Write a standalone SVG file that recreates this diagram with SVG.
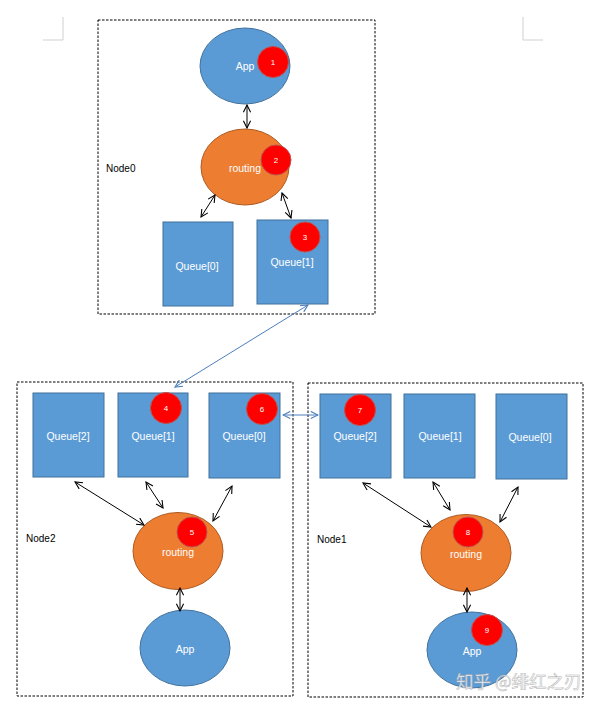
<svg xmlns="http://www.w3.org/2000/svg" width="600" height="709" viewBox="0 0 600 709">
<style>
.box{fill:none;stroke:#000;stroke-width:1;stroke-dasharray:2.5 1.5}
.q{fill:#5b9bd5;stroke:#41719c;stroke-width:1}
.r{fill:#ed7d31;stroke:#ae5a21;stroke-width:1}
.a{fill:#5b9bd5;stroke:#41719c;stroke-width:1}
.red{fill:#ff0000;stroke:#c0504d;stroke-width:1}
.t{font-family:"Liberation Sans",Arial,sans-serif;font-size:10.5px;fill:#ffffff;text-anchor:middle}
.n{font-family:"Liberation Sans",Arial,sans-serif;font-size:8px;fill:#ffffff;text-anchor:middle}
.lbl{font-family:"Liberation Sans",Arial,sans-serif;font-size:10px;fill:#000}
.c{stroke:#000;stroke-width:1;fill:none;marker-start:url(#ah);marker-end:url(#ah)}
.cb{stroke:#4a7ebb;stroke-width:1;fill:none;marker-start:url(#ahb);marker-end:url(#ahb)}
.corner{stroke:#d0d0d0;stroke-width:1;fill:none}
</style>
<defs>
<marker id="ah" viewBox="0 0 10 10" refX="9" refY="5" markerWidth="9" markerHeight="9" markerUnits="userSpaceOnUse" orient="auto-start-reverse">
<path d="M1,1 L9,5 L1,9" fill="none" stroke="#000" stroke-width="1.2"/>
</marker>
<marker id="ahb" viewBox="0 0 10 10" refX="9" refY="5" markerWidth="9" markerHeight="9" markerUnits="userSpaceOnUse" orient="auto-start-reverse">
<path d="M1,1 L9,5 L1,9" fill="none" stroke="#4a7ebb" stroke-width="1.2"/>
</marker>
</defs>
<rect width="600" height="709" fill="#ffffff"/>
<g id="corners">
<path class="corner" d="M63,17 V40 H43"/>
<path class="corner" d="M523,17 V40 H543"/>
</g>
<g id="node0">
<rect class="box" x="98" y="20" width="277" height="294"/>
<text class="lbl" x="106" y="172">Node0</text>
</g>
<g id="node2">
<rect class="box" x="17" y="382" width="276" height="314"/>
<text class="lbl" x="26" y="542">Node2</text>
</g>
<g id="node1">
<rect class="box" x="308" y="383" width="275" height="314"/>
<text class="lbl" x="317" y="543">Node1</text>
</g>
<g id="n0-app">
<ellipse class="a" cx="245" cy="66" rx="45" ry="38"/>
<text class="t" x="245" y="70">App</text>
<circle class="red" cx="273" cy="62" r="15.5"/>
<text class="n" x="273" y="65">1</text>
</g>
<g id="n0-routing">
<ellipse class="r" cx="245" cy="167" rx="44" ry="38"/>
<text class="t" x="245" y="172">routing</text>
<circle class="red" cx="276" cy="160" r="15"/>
<text class="n" x="276" y="163">2</text>
</g>
<g id="n0-queue0">
<rect class="q" x="163" y="222" width="70" height="84"/>
<text class="t" x="197" y="270">Queue[0]</text>
</g>
<g id="n0-queue1">
<rect class="q" x="257" y="220" width="71" height="84"/>
<text class="t" x="292" y="266">Queue[1]</text>
<circle class="red" cx="305" cy="237" r="15"/>
<text class="n" x="305" y="240">3</text>
</g>
<g id="n2-queue2">
<rect class="q" x="33" y="393" width="71" height="84"/>
<text class="t" x="68" y="440">Queue[2]</text>
</g>
<g id="n2-queue1">
<rect class="q" x="118" y="393" width="70" height="84"/>
<text class="t" x="153" y="440">Queue[1]</text>
<circle class="red" cx="166" cy="408" r="15.5"/>
<text class="n" x="166" y="411">4</text>
</g>
<g id="n2-queue0">
<rect class="q" x="209" y="393" width="71" height="85"/>
<text class="t" x="244" y="440">Queue[0]</text>
<circle class="red" cx="262" cy="409" r="15.5"/>
<text class="n" x="262" y="412">6</text>
</g>
<g id="n2-routing">
<ellipse class="r" cx="178" cy="551" rx="45" ry="38.5"/>
<text class="t" x="178" y="556">routing</text>
<circle class="red" cx="192" cy="532" r="15"/>
<text class="n" x="192" y="535">5</text>
</g>
<g id="n2-app">
<ellipse class="a" cx="185" cy="648" rx="45" ry="38"/>
<text class="t" x="185" y="653">App</text>
</g>
<g id="n1-queue2">
<rect class="q" x="320" y="394" width="71" height="84"/>
<text class="t" x="355" y="440">Queue[2]</text>
<circle class="red" cx="360" cy="410" r="15.5"/>
<text class="n" x="360" y="413">7</text>
</g>
<g id="n1-queue1">
<rect class="q" x="404" y="394" width="71" height="84"/>
<text class="t" x="440" y="440">Queue[1]</text>
</g>
<g id="n1-queue0">
<rect class="q" x="496" y="394" width="71" height="85"/>
<text class="t" x="530" y="441">Queue[0]</text>
</g>
<g id="n1-routing">
<ellipse class="r" cx="466" cy="553" rx="45" ry="38.5"/>
<text class="t" x="466" y="558">routing</text>
<circle class="red" cx="468" cy="532" r="15"/>
<text class="n" x="468" y="535">8</text>
</g>
<g id="n1-app">
<ellipse class="a" cx="472" cy="650" rx="45" ry="38"/>
<text class="t" x="472" y="655">App</text>
<circle class="red" cx="487" cy="630" r="15.5"/>
<text class="n" x="487" y="633">9</text>
</g>
<g id="connectors">
<line class="c" x1="247" y1="105" x2="247" y2="128"/>
<line class="c" x1="215" y1="195" x2="201" y2="217"/>
<line class="c" x1="282" y1="193" x2="291" y2="218"/>
<line class="cb" x1="308" y1="305" x2="175" y2="387"/>
<line class="cb" x1="283" y1="415" x2="318" y2="415"/>
<line class="c" x1="75" y1="482" x2="144" y2="525"/>
<line class="c" x1="146" y1="482" x2="163" y2="508"/>
<line class="c" x1="232" y1="486" x2="213" y2="521"/>
<line class="c" x1="180" y1="588" x2="180" y2="611"/>
<line class="c" x1="363" y1="483" x2="431" y2="527"/>
<line class="c" x1="433" y1="482" x2="450" y2="510"/>
<line class="c" x1="518" y1="487" x2="500" y2="522"/>
<line class="c" x1="467" y1="588" x2="467" y2="612"/>
</g>
<text x="456" y="688" font-family="'Noto Sans CJK SC',sans-serif" font-size="17.5" fill="#ffffff" stroke="#a8a8a8" stroke-width="0.5" opacity="0.9">知乎 @绯红之刃</text>
</svg>
